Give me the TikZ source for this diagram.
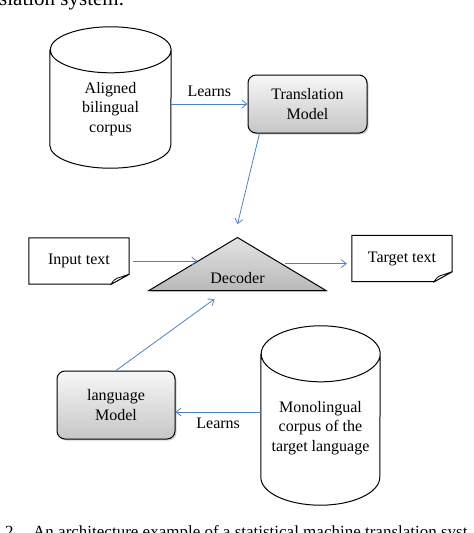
\documentclass[tikz,border=0pt]{standalone}
\usepackage{fontspec}
\setmainfont{Liberation Serif}
\usetikzlibrary{shapes.geometric,arrows.meta,shadows}

\definecolor{arrowblue}{RGB}{79,129,189}

\tikzset{
  every node/.style={font=\fontsize{16}{19.5}\selectfont, align=center},
  drum/.style={rectangle, minimum width=121pt, inner sep=0pt},
  model/.style={rectangle, rounded corners=8pt, draw, line width=1pt, top color=gray!6, bottom color=gray!45,
    drop shadow={shadow xshift=1.5pt, shadow yshift=-1.5pt, opacity=.35}, minimum width=119pt},
  doc/.style={minimum width=100pt, minimum height=46pt, inner sep=0pt},
  arr/.style={draw=arrowblue, line width=0.8pt, -{Straight Barb[length=5pt,width=8pt]}},
}
% cylinder outline round a node: #2 x radius, #3 y radius of the ends
\newcommand\drum[3]{%
  \draw[line width=1pt] ([yshift=-#3pt]#1.north west) -- ([yshift=#3pt]#1.south west)
    arc[start angle=180, end angle=360, x radius=#2pt, y radius=#3pt]
    -- ([yshift=-#3pt]#1.north east)
    arc[start angle=0, end angle=360, x radius=#2pt, y radius=#3pt];}
% sheet with a folded corner
\newcommand\dogear[1]{%
  \draw[line width=1pt] (#1.north west) -- (#1.north east) -- ([yshift=10pt]#1.south east)
    -- ([xshift=-18pt]#1.south east) -- (#1.south west) -- cycle;
  \draw[line width=0.8pt, fill=white] ([yshift=10pt]#1.south east) -- ([xshift=-9pt,yshift=7pt]#1.south east)
    to[bend right=25] ([xshift=-18pt]#1.south east) -- cycle;}

\begin{document}
\begin{tikzpicture}[x=1pt, y=-1pt]
\useasboundingbox (0,0) rectangle (474,533);
% page text cut by the crop
\node[anchor=base west, font=\fontsize{21}{24}\selectfont, inner sep=0pt] (head) at (-1,5) {slation system.};
\node[anchor=base west, font=\fontsize{17}{20}\selectfont, inner sep=0pt] (capno) at (5,537) {2};
\node[anchor=base west, font=\fontsize{17}{20}\selectfont, inner sep=0pt] (cap) at (33,537) {An architecture example of a statistical machine translation syst};

\node[drum, minimum height=141pt, label={[yshift=-11.5pt]center:{Aligned\\bilingual\\corpus}}] (bil) at (110.5,97.5) {};
\node[model, minimum height=58pt] (tm) at (307.5,104) {Translation\\Model};
\node[isosceles triangle, shape border rotate=90, isosceles triangle stretches, draw, line width=1pt,
  minimum width=177pt, minimum height=53pt, inner sep=0pt, top color=gray!22, bottom color=gray!55,
  drop shadow={shadow xshift=1pt, shadow yshift=-1.5pt, opacity=.35}, anchor=lower side,
  label={[anchor=center, yshift=13pt]south:Decoder}] (dec) at (237.5,291) {};
\node[doc] (in) at (79,261) {Input text};
\node[doc] (tgt) at (402,258.5) {Target text};
\node[model, minimum height=68pt, minimum width=118pt] (lm) at (116,405) {language\\Model};
\node[drum, minimum width=119pt, minimum height=179pt, label={[yshift=-12.5pt]center:{Monolingual\\corpus of the\\target language}}] (mono) at (320.5,415.5) {};
\drum{bil}{60.5}{23}
\drum{mono}{59.5}{28}
\dogear{in}
\dogear{tgt}

\draw[arr] (bil.east |- tm.west) -- node[above=4pt] {Learns} (tm.west);
\draw[arr] ([xshift=12pt]tm.south west) -- ([yshift=12pt]dec.apex);
\draw[arr] ([xshift=4pt]in.east) -- ([xshift=5pt]in.east -| dec.left side);
\draw[arr] ([xshift=2pt]dec.right side) -- ([xshift=-5pt]tgt.west |- dec.right side);
\draw[arr] (lm.north) -- ([xshift=-23pt,yshift=-8pt]dec.lower side);
\draw[arr] ([yshift=-7pt]mono.west |- lm.east) -- node[below=2pt] {Learns} ([yshift=-7pt]lm.east);
\end{tikzpicture}
\end{document}
